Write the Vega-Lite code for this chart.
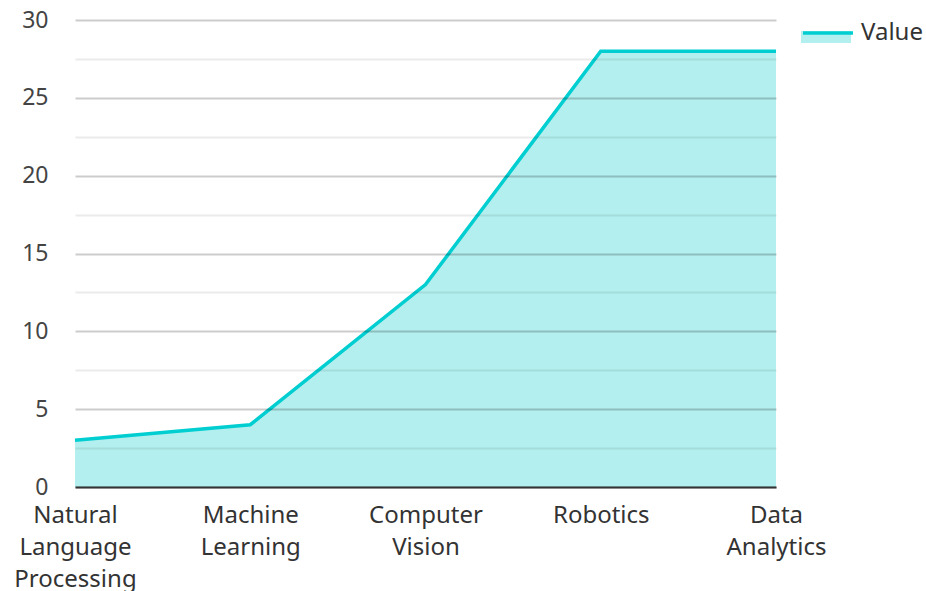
{
  "$schema": "https://vega.github.io/schema/vega-lite/v6.json",
  "width": 701,
  "height": 467,
  "autosize": "none",
  "padding": {"left": 75, "top": 20, "right": 150, "bottom": 104},
  "config": {"font": "Noto Sans", "view": {"stroke": null}},
  "data": {
    "values": [
      {"category": "Natural Language Processing", "value": 3},
      {"category": "Machine Learning", "value": 4},
      {"category": "Computer Vision", "value": 13},
      {"category": "Robotics", "value": 28},
      {"category": "Data Analytics", "value": 28}
    ]
  },
  "encoding": {
    "x": {
      "field": "category",
      "type": "ordinal",
      "sort": null,
      "scale": {"type": "point", "padding": 0},
      "axis": {
        "title": null,
        "labelAngle": 0,
        "labelExpr": "split(datum.label, ' ')",
        "labelFontSize": 24,
        "labelLineHeight": 32,
        "labelPadding": 16,
        "labelColor": "#333",
        "ticks": false,
        "grid": false,
        "domainColor": "#333",
        "domainWidth": 2,
        "labelOverlap": false,
        "zindex": 2
      }
    },
    "y": {
      "field": "value",
      "type": "quantitative",
      "scale": {"domain": [0, 30], "nice": false}
    }
  },
  "layer": [
    {
      "mark": {"type": "area"},
      "encoding": {
        "fill": {
          "datum": "Value ",
          "scale": {"range": ["#b2efee"]},
          "legend": {
            "title": null,
            "orient": "none",
            "legendX": 726,
            "legendY": -14,
            "symbolType": "M-1,0L1,0L1,0.48L-1,0.48Z",
            "symbolSize": 2500,
            "symbolStrokeWidth": 0,
            "labelExpr": "''",
            "labelFontSize": 24,
            "labelOffset": 6,
            "padding": 0
          }
        },
        "y": {
          "field": "value",
          "type": "quantitative",
          "axis": {
            "title": null,
            "values": [0, 5, 10, 15, 20, 25, 30],
            "grid": true,
            "gridColor": "#000",
            "gridOpacity": 0.2,
            "gridWidth": 2,
            "domain": false,
            "ticks": false,
            "labelPadding": 27,
            "labelFontSize": 23,
            "labelColor": "#444",
            "labelFlush": false,
            "labelOverlap": false,
            "zindex": 1
          }
        }
      }
    },
    {
      "mark": {"type": "line", "strokeWidth": 3.5},
      "encoding": {
        "stroke": {
          "datum": "Value",
          "scale": {"range": ["#00CED1"]},
          "legend": {
            "title": null,
            "orient": "none",
            "legendX": 726,
            "legendY": -14,
            "symbolType": "M-1,0L1,0",
            "symbolSize": 2500,
            "symbolStrokeWidth": 3.5,
            "labelFontSize": 24,
            "labelColor": "#333",
            "labelOffset": 6,
            "padding": 0
          }
        },
        "y": {
          "field": "value",
          "type": "quantitative",
          "axis": {
            "title": null,
            "orient": "left",
            "values": [2.5, 7.5, 12.5, 17.5, 22.5, 27.5],
            "labels": false,
            "grid": true,
            "gridColor": "#000",
            "gridOpacity": 0.08,
            "gridWidth": 2,
            "domain": false,
            "ticks": false,
            "zindex": 1
          }
        }
      }
    }
  ],
  "resolve": {"axis": {"y": "independent"}}
}
